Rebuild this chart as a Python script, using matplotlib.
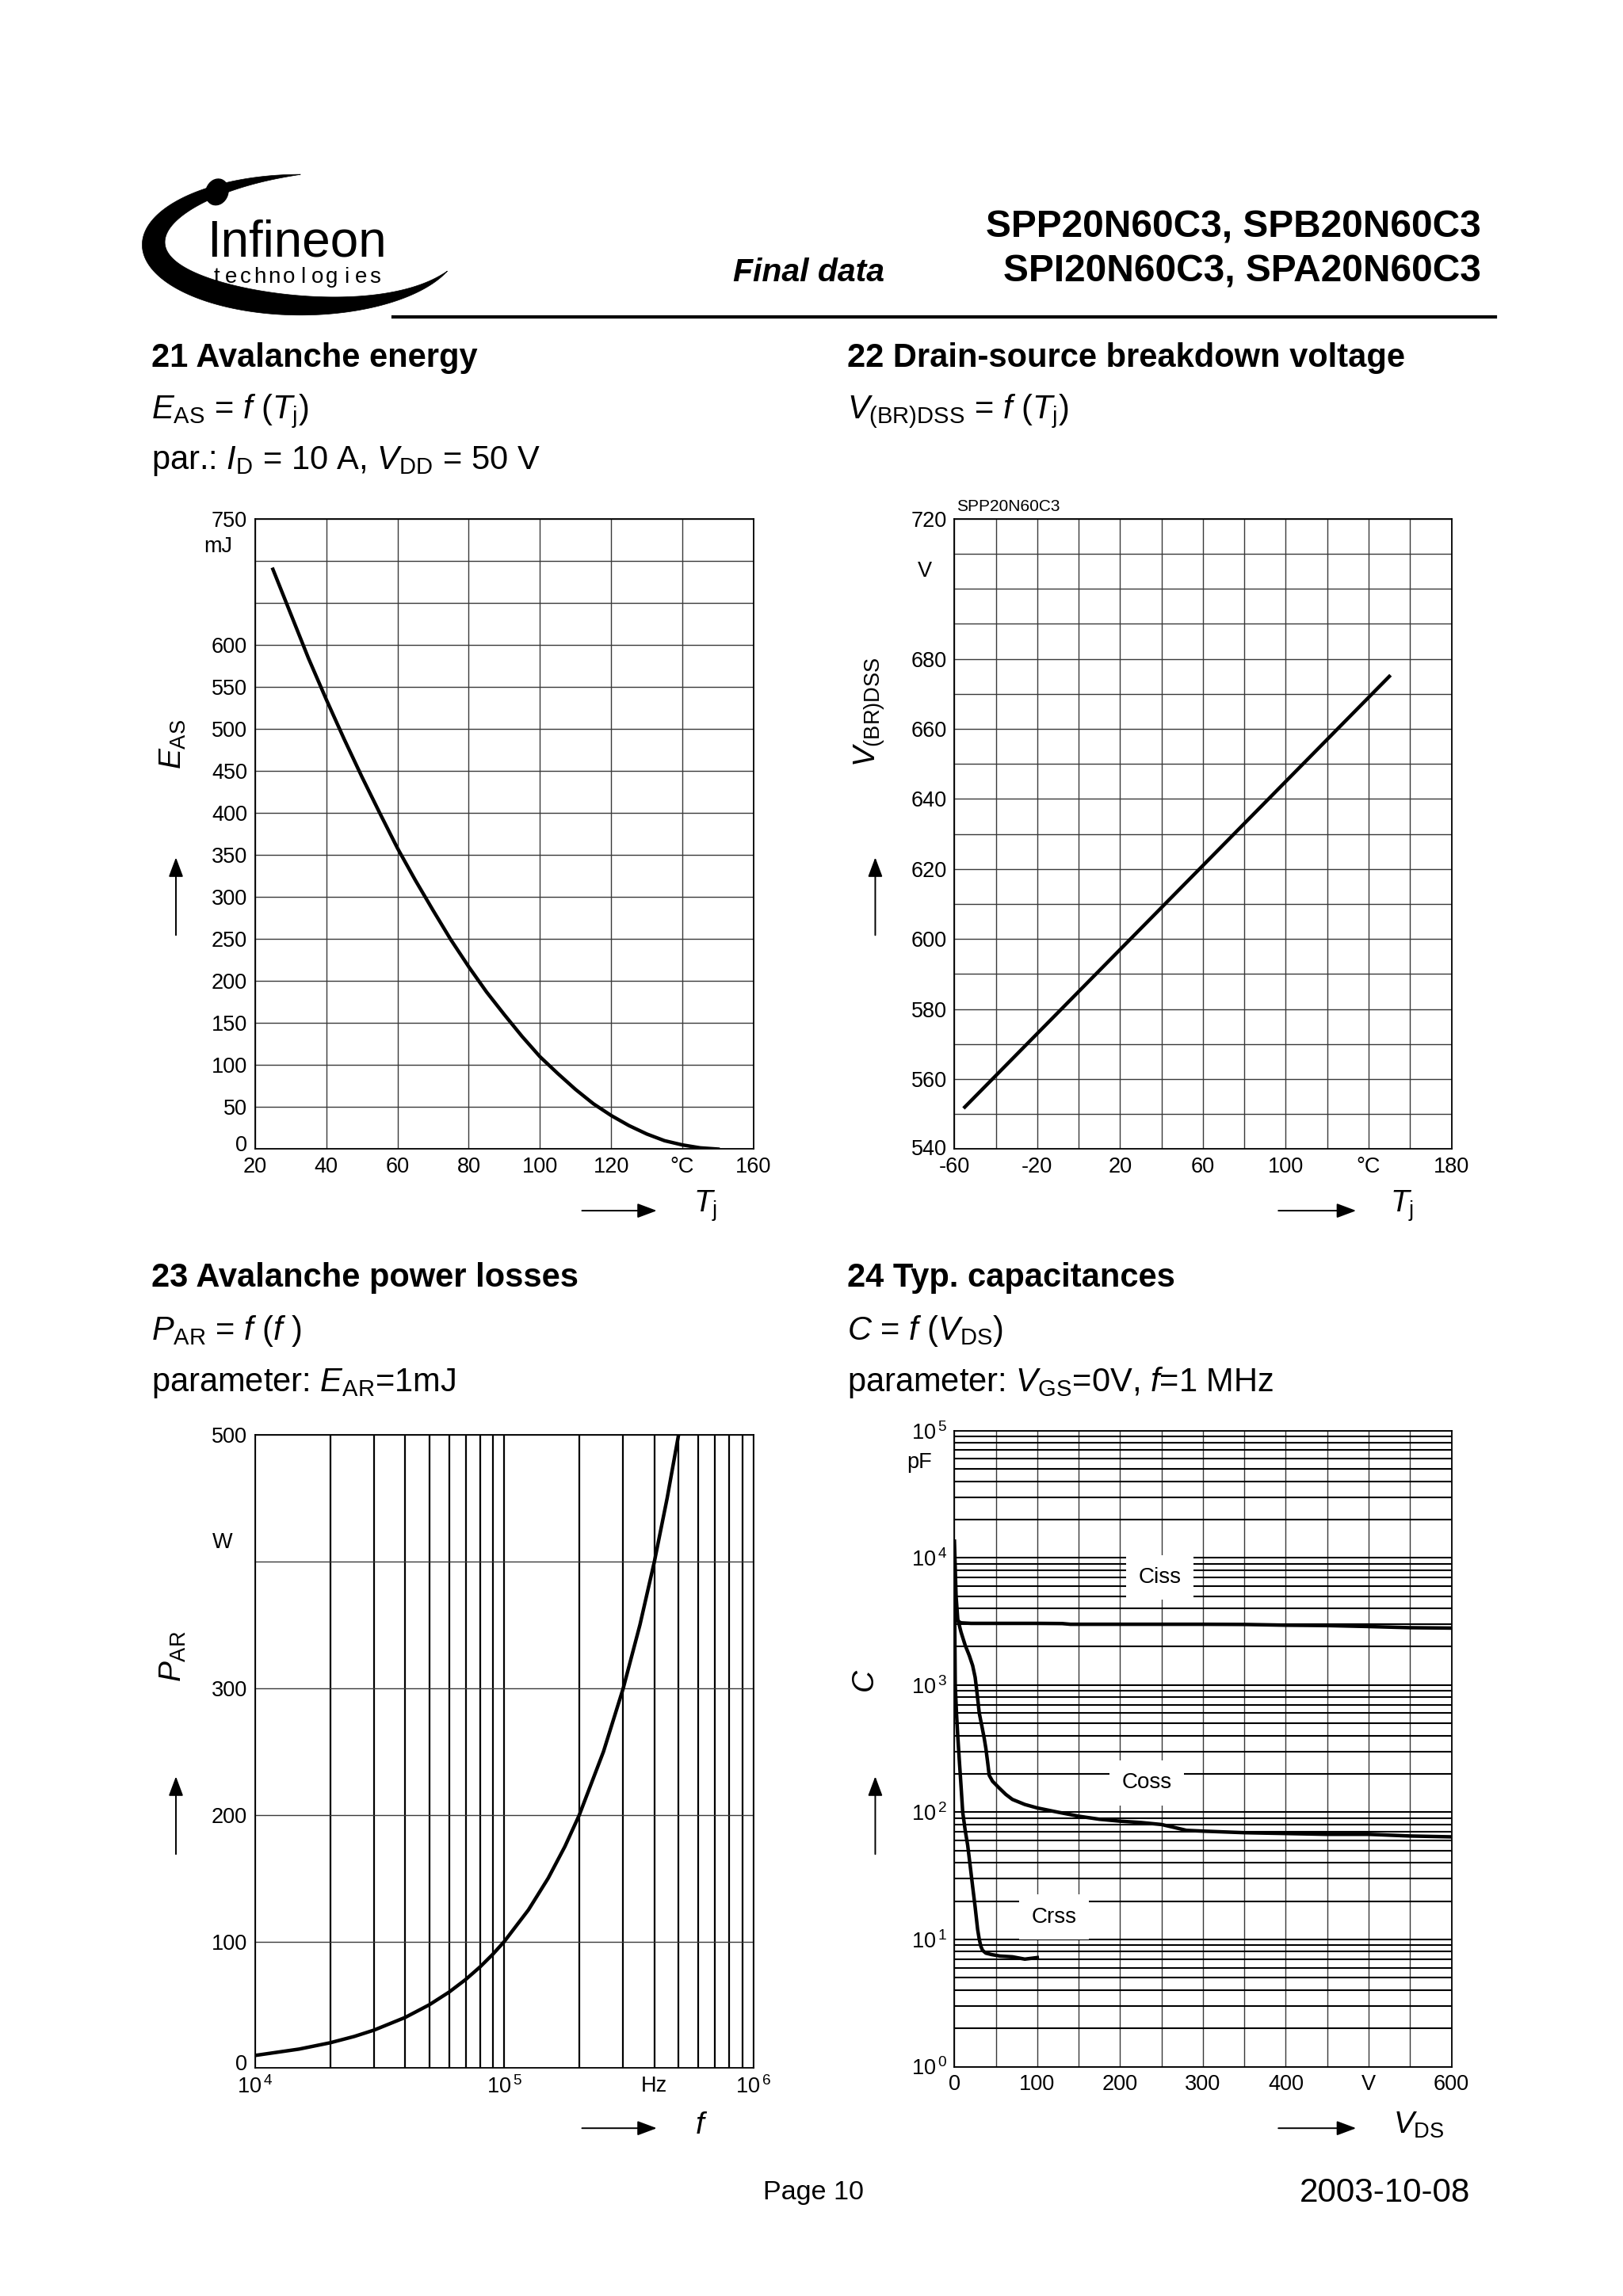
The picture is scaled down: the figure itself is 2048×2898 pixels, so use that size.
import numpy as np
import matplotlib
matplotlib.use("Agg")
import matplotlib.pyplot as plt
import matplotlib.transforms as mtransforms
from matplotlib import font_manager
from matplotlib.patches import Polygon, Ellipse
from matplotlib.ticker import FixedLocator, FixedFormatter, LogLocator, NullFormatter

# ---- data read from the datasheet page ----
# 21 Avalanche energy E_AS = f(Tj)
tj_eas = [25, 30, 35, 40, 45, 50, 55, 60, 65, 70, 75, 80, 85, 90, 95, 100,
          105, 110, 115, 120, 125, 130, 135, 140, 145, 150]
eas = [690, 637, 584, 535, 488, 443, 400, 358, 320, 284, 249, 217, 187, 160,
       134, 110, 90, 71, 54, 40, 28, 18, 10, 5, 1.5, 0]

# 22 Drain-source breakdown voltage V(BR)DSS = f(Tj)
tj_vbr = [-55, -20, 20, 60, 100, 150]
vbr = [552, 573, 597, 621, 645, 675]

# 23 Avalanche power losses P_AR = f(f)
freq = [1e4, 1.5e4, 2e4, 2.5e4, 3e4, 4e4, 5e4, 6e4, 7e4, 8e4, 9e4, 1e5,
        1.25e5, 1.5e5, 1.75e5, 2e5, 2.5e5, 3e5, 3.5e5, 4e5, 4.5e5, 5e5]
par = [10, 15, 20, 25, 30, 40, 50, 60, 70, 80, 90, 100,
       125, 150, 175, 200, 250, 300, 350, 400, 450, 500]

# 24 Typ. capacitances C = f(VDS)
vds_ciss = [0, 3, 8, 20, 50, 100, 130, 140, 200, 300, 350, 400, 450, 500, 550, 600]
ciss = [3400, 3200, 3080, 3050, 3050, 3050, 3040, 3000, 3000, 3000, 2990, 2950,
        2930, 2880, 2820, 2800]
vds_coss = [0, 2, 4, 8, 13, 18, 22, 25, 27, 30, 33, 36, 38, 40, 42, 46, 54, 62,
            70, 85, 100, 125, 150, 175, 200, 225, 250, 265, 280, 300, 350, 400,
            450, 500, 550, 600]
coss = [13500, 5000, 3300, 2600, 2050, 1700, 1420, 1150, 900, 600, 480, 380,
        316, 250, 195, 175, 155, 138, 126, 115, 108, 100, 93, 88, 85, 83, 80,
        76, 72, 71, 69, 68, 67, 67, 65, 64]
vds_crss = [0, 1, 2.5, 4, 6, 8, 10, 13, 16, 19, 22, 25, 28, 30, 32, 34, 38, 45,
            55, 70, 85, 100]
crss = [6000, 1000, 600, 400, 250, 160, 100, 72, 55, 38, 26, 18, 12, 10, 8.8,
        8.2, 7.8, 7.6, 7.4, 7.3, 7.0, 7.2]

cap_labels = ["Ciss", "Coss", "Crss"]
cap_label_x = [248, 232, 120]
cap_label_y = [7000, 170, 15]

W, H = 2048, 2898
S = 1.85  # layout below is measured on a 1107 px wide view of the page

plt.rcParams["font.family"] = ["Liberation Sans", "DejaVu Sans"]
plt.rcParams["mathtext.fontset"] = "custom"
plt.rcParams["mathtext.rm"] = "Liberation Sans"
plt.rcParams["mathtext.it"] = "Liberation Sans:italic"
plt.rcParams["mathtext.bf"] = "Liberation Sans:bold"

names = {f.name for f in font_manager.fontManager.ttflist}
if "Liberation Sans Narrow" in names:
    NARROW, NS = "Liberation Sans Narrow", 1.0
else:
    NARROW, NS = "Liberation Sans", 0.82

TICK = 19.5
GRID = "#3a3a3a"
LW = 3.2

fig = plt.figure(figsize=(W / 100, H / 100), dpi=100)
page = fig.add_axes([0, 0, 1, 1])
page.set_xlim(0, W / S)
page.set_ylim(H / S, 0)
page.axis("off")


def axes_at(left, top, right, bottom):
    left, top, right, bottom = left * S, top * S, right * S, bottom * S
    return fig.add_axes([left / W, 1 - bottom / H, (right - left) / W, (bottom - top) / H])


def base_style(ax):
    ax.tick_params(which="both", length=0, labelsize=TICK, pad=7)
    for sp in ax.spines.values():
        sp.set_linewidth(1.3)
        sp.set_color("k")
    ax.set_axisbelow(True)


def raise_first_ylabel(ax, pts=5):
    # the bottom y label sits a little above the corner, clear of the x label
    lab = ax.get_yticklabels()[0]
    lab.set_transform(lab.get_transform()
                      + mtransforms.ScaledTranslation(0, pts / 72, fig.dpi_scale_trans))


def unit_text(ax, y, txt):
    tr = mtransforms.blended_transform_factory(ax.transAxes, ax.transData)
    ax.text(-0.045, y, txt, transform=tr, ha="right", va="center", fontsize=TICK)


def arrow(x0, y0, x1, y1):
    page.annotate("", xy=(x1, y1), xytext=(x0, y0),
                  arrowprops=dict(arrowstyle="-|>,head_length=0.75,head_width=0.28",
                                  color="k", lw=1.4, shrinkA=0, shrinkB=0,
                                  mutation_scale=20))


# ---- header: logo ----
deg = np.linspace(270, 22, 240)
t = np.radians(deg)
s = (270 - deg) / 248
w = 17 * np.sin(np.pi * s) ** 0.9
cx, cy, a, b = 205, 167, 108, 48
ox, oy = cx + a * np.cos(t), cy + b * np.sin(t)
ix, iy = cx + (a - w) * np.cos(t), cy + (b - w) * np.sin(t)
pts = np.column_stack([np.r_[ox, ix[::-1]], np.r_[oy, iy[::-1]]])
page.add_patch(Polygon(pts, closed=True, fc="k", ec="k", lw=0.5))
page.add_patch(Ellipse((148, 131), 15, 18, angle=20, fc="k", ec="k"))
page.text(141, 175, "Infineon", fontsize=46, family=NARROW, va="baseline", ha="left")
for i, ch in enumerate("technologies"):
    page.text(148 + i * 9.8, 193, ch, fontsize=20, ha="center", va="baseline")

page.text(1010, 162, "SPP20N60C3, SPB20N60C3", ha="right", va="baseline",
          fontsize=42 * NS, fontweight="bold", family=NARROW)
page.text(1010, 192, "SPI20N60C3, SPA20N60C3", ha="right", va="baseline",
          fontsize=42 * NS, fontweight="bold", family=NARROW)
page.text(500, 192, "Final data", ha="left", va="baseline", fontsize=36 * NS,
          fontweight="bold", fontstyle="italic", family=NARROW)
page.plot([268, 1020], [216, 216], color="k", lw=3)

# ---- section titles ----
TT = 30
page.text(103, 250.3, "21 Avalanche energy", fontsize=TT, fontweight="bold", va="baseline")
page.text(103, 285.2, r"$E_{\rm AS}$ = $f$ ($T_{\rm j}$)", fontsize=TT, va="baseline")
page.text(103, 320.1, r"par.: $I_{\rm D}$ = 10 A, $V_{\rm DD}$ = 50 V", fontsize=TT, va="baseline")

page.text(578, 250.3, "22 Drain-source breakdown voltage", fontsize=TT, fontweight="bold", va="baseline")
page.text(578, 285.2, r"$V_{\rm (BR)DSS}$ = $f$ ($T_{\rm j}$)", fontsize=TT, va="baseline")

page.text(103, 878, "23 Avalanche power losses", fontsize=TT, fontweight="bold", va="baseline")
page.text(103, 914, r"$P_{\rm AR}$ = $f$ ($f$ )", fontsize=TT, va="baseline")
page.text(103, 949, r"parameter: $E_{\rm AR}$=1mJ", fontsize=TT, va="baseline")

page.text(578, 878, "24 Typ. capacitances", fontsize=TT, fontweight="bold", va="baseline")
page.text(578, 914, r"$C$ = $f$ ($V_{\rm DS}$)", fontsize=TT, va="baseline")
page.text(578, 949, r"parameter: $V_{\rm GS}$=0V, $f$=1 MHz", fontsize=TT, va="baseline")

# ---- 21 ----
ax1 = axes_at(174, 354, 514, 784)
base_style(ax1)
ax1.plot(tj_eas, eas, color="k", lw=LW)
ax1.set_xlim(20, 160)
ax1.set_ylim(0, 750)
ax1.set_xticks(np.arange(20, 161, 20))
ax1.set_xticklabels(["20", "40", "60", "80", "100", "120", "°C", "160"])
yt = np.arange(0, 751, 50)
ax1.set_yticks(yt)
ax1.set_yticklabels([str(v) if v <= 600 or v == 750 else "" for v in yt])
ax1.grid(True, color=GRID, lw=1.0)
unit_text(ax1, 717, "mJ")
raise_first_ylabel(ax1)

page.text(118, 508, r"$E_{\rm AS}$", rotation=90, ha="center", va="center", fontsize=28)
arrow(120, 638, 120, 585)
arrow(397, 826, 448, 826)
page.text(473, 823, r"$T_{\rm j}$", ha="left", va="center", fontsize=28)

# ---- 22 ----
ax2 = axes_at(651, 354, 990, 784)
base_style(ax2)
ax2.plot(tj_vbr, vbr, color="k", lw=LW)
ax2.set_xlim(-60, 180)
ax2.set_ylim(540, 720)
xt = np.arange(-60, 181, 20)
ax2.set_xticks(xt)
xl = {-60: "-60", -20: "-20", 20: "20", 60: "60", 100: "100", 140: "°C", 180: "180"}
ax2.set_xticklabels([xl.get(v, "") for v in xt])
yt = np.arange(540, 721, 10)
ax2.set_yticks(yt)
ax2.set_yticklabels([str(v) if (v % 20 == 0 and v <= 680) or v == 720 else "" for v in yt])
ax2.grid(True, color=GRID, lw=1.0)
unit_text(ax2, 705, "V")
raise_first_ylabel(ax2, 2)
ax2.text(0.005, 1.008, "SPP20N60C3", transform=ax2.transAxes, ha="left", va="bottom", fontsize=15)

page.text(593, 486, r"$V_{\rm (BR)DSS}$", rotation=90, ha="center", va="center", fontsize=28)
arrow(597, 638, 597, 585)
arrow(872, 826, 925, 826)
page.text(948, 823, r"$T_{\rm j}$", ha="left", va="center", fontsize=28)

# ---- 23 ----
ax3 = axes_at(174, 979, 514, 1411)
base_style(ax3)
ax3.plot(freq, par, color="k", lw=LW)
ax3.set_xscale("log")
ax3.set_xlim(1e4, 1e6)
ax3.set_ylim(0, 500)
ax3.xaxis.set_major_locator(FixedLocator([1e4, 1e5, 4e5, 1e6]))
ax3.xaxis.set_major_formatter(FixedFormatter([r"$10^{\,4}$", r"$10^{\,5}$", "Hz", r"$10^{\,6}$"]))
ax3.xaxis.set_minor_locator(LogLocator(base=10, subs=np.arange(2, 10)))
ax3.xaxis.set_minor_formatter(NullFormatter())
ax3.set_yticks([0, 100, 200, 300, 400, 500])
ax3.set_yticklabels(["0", "100", "200", "300", "", "500"])
ax3.grid(True, which="both", axis="x", color="k", lw=1.6)
ax3.grid(True, which="major", axis="y", color=GRID, lw=1.0)
unit_text(ax3, 415, "W")
raise_first_ylabel(ax3)

page.text(118, 1130, r"$P_{\rm AR}$", rotation=90, ha="center", va="center", fontsize=28)
arrow(120, 1265, 120, 1212)
arrow(397, 1452, 448, 1452)
page.text(474, 1450, r"$f$", ha="left", va="center", fontsize=28)

# ---- 24 ----
ax4 = axes_at(651, 976, 990, 1410)
base_style(ax4)
for xs, ys in [(vds_ciss, ciss), (vds_coss, coss), (vds_crss, crss)]:
    ax4.plot(xs, ys, color="k", lw=LW, zorder=3)
ax4.set_yscale("log")
ax4.set_xlim(0, 600)
ax4.set_ylim(1, 1e5)
xt = np.arange(0, 601, 50)
ax4.set_xticks(xt)
xl = {0: "0", 100: "100", 200: "200", 300: "300", 400: "400", 500: "V", 600: "600"}
ax4.set_xticklabels([xl.get(v, "") for v in xt])
ax4.yaxis.set_major_locator(FixedLocator([1, 10, 100, 1e3, 1e4, 1e5]))
ax4.yaxis.set_major_formatter(FixedFormatter([r"$10^{\,%d}$" % k for k in range(6)]))
ax4.yaxis.set_minor_locator(LogLocator(base=10, subs=np.arange(2, 10)))
ax4.yaxis.set_minor_formatter(NullFormatter())
ax4.grid(True, which="both", axis="y", color="k", lw=1.5)
ax4.grid(True, which="major", axis="x", color=GRID, lw=1.0)
unit_text(ax4, 5.6e4, "pF")
for lab, lx, ly in zip(cap_labels, cap_label_x, cap_label_y):
    ax4.text(lx, ly, lab, ha="center", va="center", fontsize=20, zorder=4,
             bbox=dict(boxstyle="square,pad=0.55", fc="white", ec="none"))

page.text(591, 1147, r"$C$", rotation=90, ha="center", va="center", fontsize=28)
arrow(597, 1265, 597, 1212)
arrow(872, 1452, 925, 1452)
page.text(950, 1450, r"$V_{\rm DS}$", ha="left", va="center", fontsize=28)

# ---- footer ----
page.text(555, 1496, "Page 10", ha="center", va="center", fontsize=30 * NS, family=NARROW)
page.text(1003, 1496, "2003-10-08", ha="right", va="center", fontsize=37 * NS, family=NARROW)

fig.savefig("out.png", dpi=100)
